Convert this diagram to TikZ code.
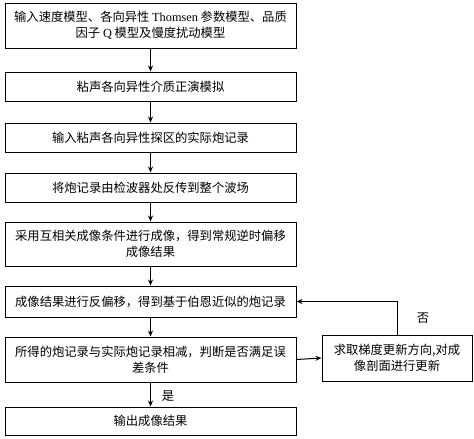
\documentclass[tikz,border=0pt]{standalone}
\usepackage{fontspec}
\setmainfont{Noto Sans CJK SC}
\newfontfamily\latin{Liberation Serif}
\usetikzlibrary{arrows.meta}
\begin{document}
\begin{tikzpicture}[x=1pt,y=-1pt,
  box/.style={draw, line width=1pt, minimum width=291pt, inner sep=0pt, align=center,
              font=\fontsize{12.3}{16}\selectfont},
  arr/.style={-{Stealth[length=6pt,width=5pt]}, line width=1pt},
  lbl/.style={inner sep=0pt, font=\fontsize{12.3}{16}\selectfont}]
\useasboundingbox (0,0) rectangle (474,439);
\node[box, minimum height=45pt] (b1) at (150.5,25.5) {输入速度模型、各向异性 {\latin Thomsen} 参数模型、品质\\因子 {\latin Q} 模型及慢度扰动模型};
\node[box, minimum height=29pt] (b2) at (150.5,86.5) {粘声各向异性介质正演模拟};
\node[box, minimum height=29pt] (b3) at (150.5,137.5) {输入粘声各向异性探区的实际炮记录};
\node[box, minimum height=29pt] (b4) at (150.5,187.5) {将炮记录由检波器处反传到整个波场};
\node[box, minimum height=44pt] (b5) at (150.5,244) {采用互相关成像条件进行成像，得到常规逆时偏移\\成像结果};
\node[box, minimum height=31pt] (b6) at (150.5,301.5) {成像结果进行反偏移，得到基于伯恩近似的炮记录};
\node[box, minimum height=45pt] (b7) at (150.5,359.5) {所得的炮记录与实际炮记录相减，判断是否满足误\\差条件};
\node[box, minimum height=28pt] (b8) at (150.5,421) {输出成像结果};
\node[box, minimum width=150pt, minimum height=46pt] (r) at (397,358) {求取梯度更新方向,对成\\像剖面进行更新};
\draw[arr] (b1) -- (b2);
\draw[arr] (b2) -- (b3);
\draw[arr] (b3) -- (b4);
\draw[arr] (b4) -- (b5);
\draw[arr] (b5) -- (b6);
\draw[arr] (b6) -- (b7);
\draw[arr] (b7) -- (b8);
\draw[arr] (b7.east) -- (r.west);
\draw[arr] (r.north) |- (b6.east);
\node[lbl] (no) at (423,318) {否};
\node[lbl] (yes) at (168,396) {是};
\end{tikzpicture}
\end{document}
